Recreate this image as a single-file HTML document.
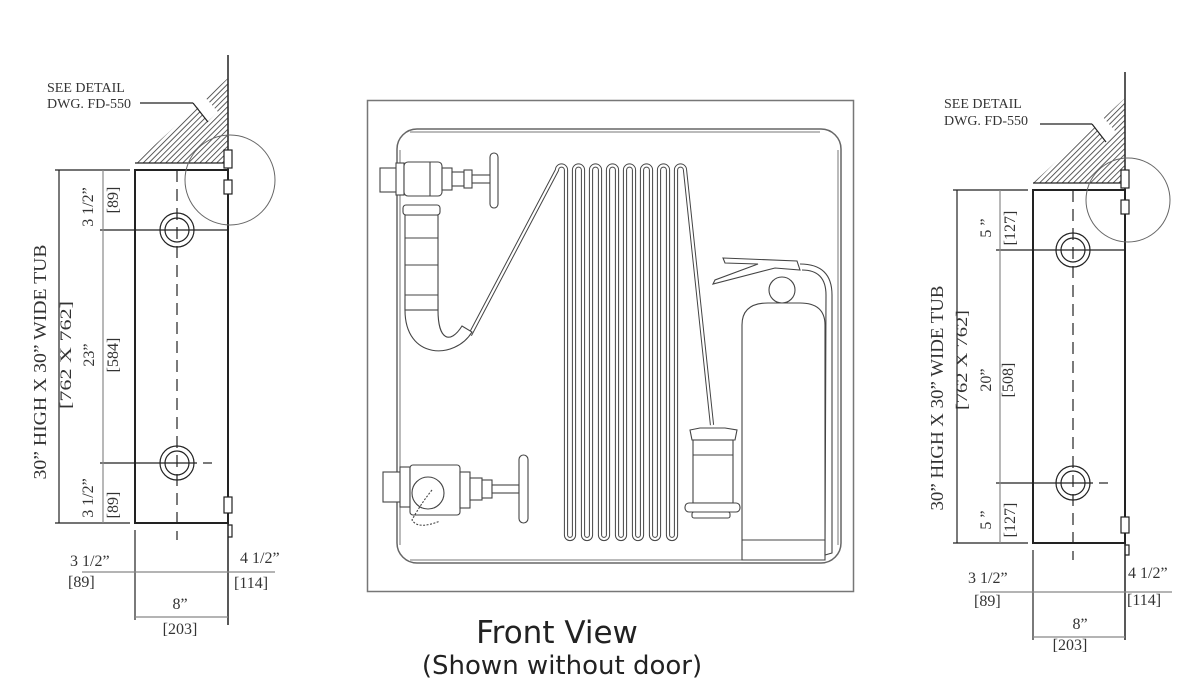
<!DOCTYPE html>
<html><head><meta charset="utf-8"><style>
html,body{margin:0;padding:0;background:#fff;}
svg{display:block;}
.t{font-family:"Liberation Serif",serif;fill:#333;}
</style></head><body>
<svg width="1200" height="688" viewBox="0 0 1200 688" xmlns="http://www.w3.org/2000/svg">
<defs>
<pattern id="h" width="4" height="4" patternUnits="userSpaceOnUse" patternTransform="rotate(45)">
<line x1="0" y1="0" x2="0" y2="4" stroke="#333" stroke-width="1.6"/>
</pattern>
<path id="hose" d="M470 335 L557 170 A4.5 4.5 0 0 1 566 170 L566 535 A4 4 0 0 0 574 535 L574 170 A4.5 4.5 0 0 1 583 170 L583 535 A4 4 0 0 0 591 535 L591 170 A4.5 4.5 0 0 1 600 170 L600 535 A4 4 0 0 0 608 535 L608 170 A4.5 4.5 0 0 1 617 170 L617 535 A4 4 0 0 0 625 535 L625 170 A4.5 4.5 0 0 1 634 170 L634 535 A4 4 0 0 0 642 535 L642 170 A4.5 4.5 0 0 1 651 170 L651 535 A4 4 0 0 0 659 535 L659 170 A4.5 4.5 0 0 1 668 170 L668 535 A4 4 0 0 0 676 535 L676 170 A4.5 4.5 0 0 1 685 170 L712 425"/>
</defs>

<!-- LEFT SIDE VIEW -->
<g stroke="#222" fill="none" stroke-width="1.2">
<line x1="228" y1="55" x2="228" y2="625" stroke-width="1.5"/>
<polygon points="135,163 228,78 228,163" fill="url(#h)" stroke="none"/>
<line x1="135" y1="163" x2="228" y2="163"/>
<polygon points="195,103 207,122 218,112 204,96" fill="#fff" stroke="none"/>
<rect x="135" y="170" width="93" height="353" stroke-width="2"/>
<circle cx="230" cy="180" r="45" stroke="#666" stroke-width="1"/>
<rect x="224" y="150" width="8" height="18" fill="#fff"/>
<rect x="224" y="180" width="8" height="14" fill="#fff"/>
<rect x="224" y="497" width="8" height="16" fill="#fff"/>
<path d="M228 515 v10 h4 v12 h-4"/>
<line x1="177" y1="170" x2="177" y2="540" stroke-dasharray="12,7"/>
<circle cx="177" cy="230" r="17"/><circle cx="177" cy="230" r="12"/>
<circle cx="177" cy="463" r="17"/><circle cx="177" cy="463" r="12"/>
<line x1="100" y1="230" x2="228" y2="230"/>
<line x1="100" y1="463" x2="197" y2="463"/><line x1="203" y1="463" x2="212" y2="463"/>
<line x1="55" y1="170" x2="130" y2="170"/>
<line x1="55" y1="523" x2="130" y2="523"/>
<line x1="59" y1="170" x2="59" y2="523"/>
<line x1="103" y1="170" x2="103" y2="523" stroke="#888"/>
<line x1="135" y1="530" x2="135" y2="620"/>
<line x1="82" y1="572" x2="275" y2="572" stroke="#888"/>
<line x1="135" y1="617" x2="228" y2="617" stroke="#888"/>
<line x1="140" y1="103" x2="193" y2="103"/><line x1="193" y1="103" x2="208" y2="122"/>
</g>
<g class="t" font-size="14">
<text x="47" y="92">SEE DETAIL</text>
<text x="47" y="108">DWG. FD-550</text>
<text x="46" y="362" font-size="18" transform="rotate(-90 46 362)" text-anchor="middle" textLength="235" lengthAdjust="spacingAndGlyphs">30” HIGH X 30” WIDE TUB</text>
<text x="71" y="355" font-size="16" transform="rotate(-90 71 355)" text-anchor="middle" textLength="108" lengthAdjust="spacingAndGlyphs">[762 X 762]</text>
<text x="94" y="355" font-size="16" transform="rotate(-90 94 355)" text-anchor="middle">23”</text>
<text x="118" y="355" font-size="16" transform="rotate(-90 118 355)" text-anchor="middle">[584]</text>
<text x="93" y="207" font-size="16" transform="rotate(-90 93 207)" text-anchor="middle">3 1/2”</text>
<text x="118" y="200" font-size="16" transform="rotate(-90 118 200)" text-anchor="middle">[89]</text>
<text x="93" y="498" font-size="16" transform="rotate(-90 93 498)" text-anchor="middle">3 1/2”</text>
<text x="118" y="505" font-size="16" transform="rotate(-90 118 505)" text-anchor="middle">[89]</text>
<text x="70" y="566" font-size="16">3 1/2”</text>
<text x="68" y="587" font-size="16">[89]</text>
<text x="240" y="563" font-size="16">4 1/2”</text>
<text x="234" y="588" font-size="16">[114]</text>
<text x="180" y="609" font-size="16" text-anchor="middle">8”</text>
<text x="180" y="634" font-size="16" text-anchor="middle">[203]</text>
</g>

<!-- RIGHT SIDE VIEW -->
<g stroke="#222" fill="none" stroke-width="1.2">
<line x1="1125" y1="72" x2="1125" y2="640" stroke-width="1.5"/>
<polygon points="1033,183 1125,98 1125,183" fill="url(#h)" stroke="none"/>
<line x1="1033" y1="183" x2="1125" y2="183"/>
<polygon points="1093,124 1105,142 1116,132 1102,116" fill="#fff" stroke="none"/>
<rect x="1033" y="190" width="92" height="353" stroke-width="2"/>
<circle cx="1128" cy="200" r="42" stroke="#666" stroke-width="1"/>
<rect x="1121" y="170" width="8" height="18" fill="#fff"/>
<rect x="1121" y="200" width="8" height="14" fill="#fff"/>
<rect x="1121" y="517" width="8" height="16" fill="#fff"/>
<path d="M1125 535 v10 h4 v10 h-4"/>
<line x1="1073" y1="190" x2="1073" y2="560" stroke-dasharray="12,7"/>
<circle cx="1073" cy="250" r="17"/><circle cx="1073" cy="250" r="12"/>
<circle cx="1073" cy="483" r="17"/><circle cx="1073" cy="483" r="12"/>
<line x1="996" y1="250" x2="1125" y2="250"/>
<line x1="996" y1="483" x2="1093" y2="483"/><line x1="1099" y1="483" x2="1108" y2="483"/>
<line x1="953" y1="190" x2="1028" y2="190"/>
<line x1="953" y1="543" x2="1028" y2="543"/>
<line x1="957" y1="190" x2="957" y2="543"/>
<line x1="1000" y1="190" x2="1000" y2="543" stroke="#888"/>
<line x1="1033" y1="550" x2="1033" y2="640"/>
<line x1="980" y1="592" x2="1172" y2="592" stroke="#888"/>
<line x1="1033" y1="637" x2="1125" y2="637" stroke="#888"/>
<line x1="1040" y1="124" x2="1092" y2="124"/><line x1="1092" y1="124" x2="1106" y2="142"/>
</g>
<g class="t" font-size="14">
<text x="944" y="108">SEE DETAIL</text>
<text x="944" y="125">DWG. FD-550</text>
<text x="943" y="398" font-size="18" transform="rotate(-90 943 398)" text-anchor="middle" textLength="225" lengthAdjust="spacingAndGlyphs">30” HIGH X 30” WIDE TUB</text>
<text x="967" y="360" font-size="16" transform="rotate(-90 967 360)" text-anchor="middle" textLength="100" lengthAdjust="spacingAndGlyphs">[762 X 762]</text>
<text x="991" y="380" font-size="16" transform="rotate(-90 991 380)" text-anchor="middle">20”</text>
<text x="1013" y="380" font-size="16" transform="rotate(-90 1013 380)" text-anchor="middle">[508]</text>
<text x="991" y="228" font-size="16" transform="rotate(-90 991 228)" text-anchor="middle">5 ”</text>
<text x="1015" y="228" font-size="16" transform="rotate(-90 1015 228)" text-anchor="middle">[127]</text>
<text x="991" y="520" font-size="16" transform="rotate(-90 991 520)" text-anchor="middle">5 ”</text>
<text x="1015" y="520" font-size="16" transform="rotate(-90 1015 520)" text-anchor="middle">[127]</text>
<text x="968" y="583" font-size="16">3 1/2”</text>
<text x="974" y="606" font-size="16">[89]</text>
<text x="1128" y="578" font-size="16">4 1/2”</text>
<text x="1127" y="605" font-size="16">[114]</text>
<text x="1080" y="629" font-size="16" text-anchor="middle">8”</text>
<text x="1070" y="650" font-size="16" text-anchor="middle">[203]</text>
</g>

<!-- FRONT VIEW -->
<g fill="none" stroke="#777" stroke-width="1.5">
<rect x="367.5" y="100.5" width="486" height="491"/>
<rect x="397" y="129" width="444" height="434" rx="20" stroke="#666"/>
<line x1="410" y1="132" x2="820" y2="132" stroke-width="1"/>
<line x1="410" y1="560" x2="820" y2="560" stroke-width="1"/>
<line x1="400" y1="150" x2="400" y2="545" stroke-width="1"/>
<line x1="838" y1="150" x2="838" y2="545" stroke-width="1"/>
</g>
<g fill="none" stroke-linejoin="round">
<use href="#hose" stroke="#444" stroke-width="4.2"/>
<use href="#hose" stroke="#fff" stroke-width="2.2"/>
</g>
<g fill="#fff" stroke="#444" stroke-width="1.1">
<!-- top valve -->
<path d="M405 300 L405 310 C405 360 455 360 472 332 L462 326 C450 345 438 340 438 310 L438 300 Z"/>
<rect x="405" y="215" width="33" height="95"/>
<line x1="405" y1="238" x2="438" y2="238"/><line x1="405" y1="265" x2="438" y2="265"/><line x1="405" y1="295" x2="438" y2="295"/>
<rect x="403" y="205" width="37" height="10" rx="3"/>
<rect x="380" y="168" width="18" height="24"/>
<rect x="396" y="163" width="8" height="32"/>
<rect x="404" y="162" width="38" height="34" rx="4"/>
<line x1="430" y1="162" x2="430" y2="196"/>
<rect x="442" y="168" width="10" height="22"/>
<rect x="452" y="172" width="12" height="14"/>
<rect x="464" y="170" width="8" height="18"/>
<rect x="472" y="175" width="20" height="8"/>
<rect x="490" y="153" width="8" height="55" rx="4"/>
<!-- bottom valve -->
<rect x="383" y="472" width="20" height="30"/>
<rect x="400" y="467" width="10" height="40"/>
<rect x="410" y="465" width="50" height="50" rx="3"/>
<circle cx="428" cy="493" r="16"/>
<rect x="460" y="472" width="10" height="36"/>
<rect x="470" y="478" width="12" height="22"/>
<rect x="482" y="480" width="10" height="18"/>
<rect x="492" y="485" width="27" height="8"/>
<rect x="519" y="455" width="9" height="68" rx="4.5"/>
<path d="M432 490 Q420 505 412 520 Q418 530 440 521" fill="none" stroke-dasharray="2,1.5"/>
<!-- nozzle -->
<path d="M700 428 L690 430 L692 440 L735 440 L737 430 L725 428 Z"/>
<rect x="693" y="440" width="40" height="63"/>
<line x1="693" y1="455" x2="733" y2="455"/>
<rect x="685" y="503" width="55" height="9" rx="4"/>
<rect x="692" y="512" width="38" height="6" rx="2"/>
<!-- extinguisher -->
<path d="M742 560 L742 325 Q742 303 768 303 L800 303 Q825 303 825 325 L825 560 Z"/>
<line x1="742" y1="540" x2="825" y2="540"/>
<circle cx="782" cy="290" r="13"/>
<path d="M723 258 L797 261 L800 270 L775 268 L713 284 L715 280 L758 264 L725 263 Z"/>
<path d="M800 264 Q832 264 832 295 L832 553 L825 555 L826 295 Q826 270 802 270"/>
</g>
<text x="557" y="643" font-family="DejaVu Sans, sans-serif" font-size="31" fill="#222" text-anchor="middle">Front View</text>
<text x="562" y="674" font-family="DejaVu Sans, sans-serif" font-size="26" fill="#222" text-anchor="middle">(Shown without door)</text>
</svg>
</body></html>
